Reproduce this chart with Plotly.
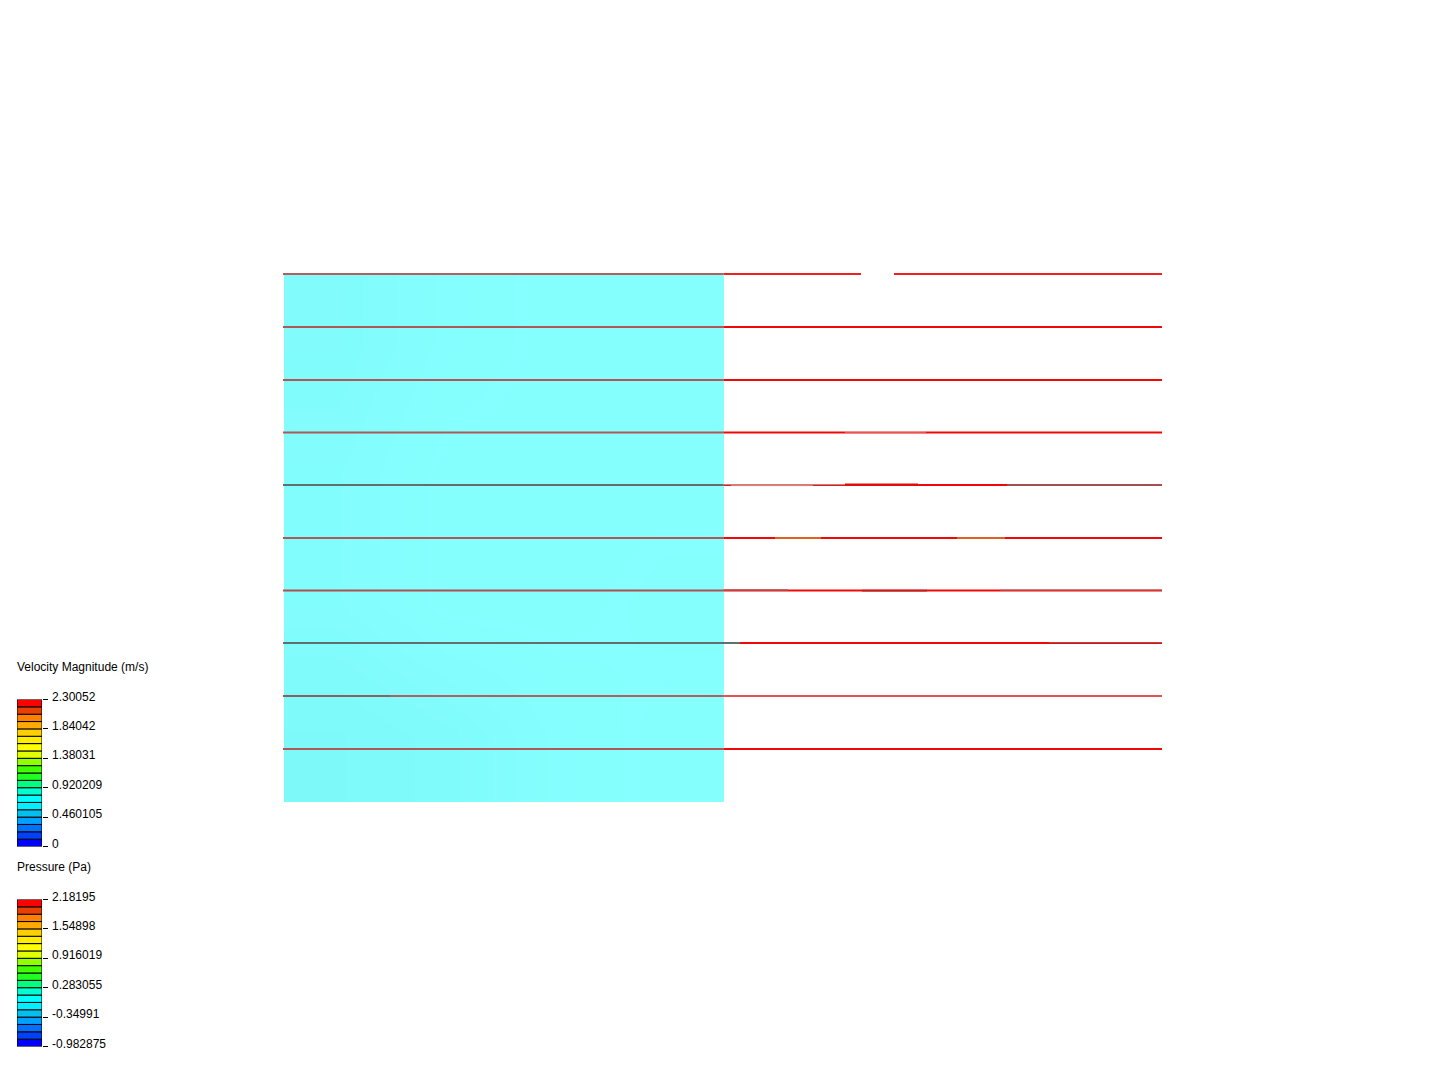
import plotly.graph_objects as go

# Plate positions and spans (horizontal lines)
plate_y = [274, 327, 380, 432.5, 485, 538, 590.5, 643, 696, 749]
plate_x0 = 283
plate_split = 723.5
plate_x1 = 1162
gap_x = [861, 894]
block_x_edges = [284, 394, 504, 614, 723.5]
block_y_edges = [275, 407, 539, 670, 802]
block_shade = [
    [0.55, 0.85, 1.0, 1.0],
    [0.7, 1.0, 1.0, 1.0],
    [0.7, 1.0, 1.0, 0.9],
    [0.3, 0.5, 0.85, 1.0],
]
block_line_colors = ["#b06060", "#b05858", "#b05858", "#b05858", "#607070", "#b05858", "#b05050", "#607070", "#b06060", "#b05858"]

# Detail segments seen on the plates: y, x start, x end, colour, width
seg_y = [485, 484.4, 485.6, 484.6, 538, 538, 590, 590.6, 590, 643, 642.5, 696, 432, 696]
seg_x0 = [1007, 845, 731, 723.5, 775, 957, 723.5, 862, 1000, 283, 1049, 283, 845, 723.5]
seg_x1 = [1162, 918, 813, 845, 821, 1005, 788, 927, 1162, 740, 1162, 390, 926, 1162]
seg_color = ["#a05050", "#d81010", "#f08080", "#c09090", "#e06020", "#e06020", "#b05858", "#c02020", "#b07070", "#607070", "#a05050", "#8a6060", "#e0a0a0", "#d0a0a0"]
seg_w = [2, 1.6, 1, 1, 2, 2, 1.6, 1.6, 1, 2, 1, 2, 1, 1]

vel_title = "Velocity Magnitude (m/s)"
vel_ticks = [0, 0.460105, 0.920209, 1.38031, 1.84042, 2.30052]
vel_labels = ["0", "0.460105", "0.920209", "1.38031", "1.84042", "2.30052"]
pres_title = "Pressure (Pa)"
pres_ticks = [-0.982875, -0.34991, 0.283055, 0.916019, 1.54898, 2.18195]
pres_labels = ["-0.982875", "-0.34991", "0.283055", "0.916019", "1.54898", "2.18195"]
band_colors = ["#0000ff", "#0040ff", "#0070ff", "#00a0ff", "#00c0f0", "#00f0ff", "#00ffff", "#00ffd0", "#00ff80",
               "#20ff20", "#40ff00", "#90ff00", "#e0ff00", "#ffff00", "#ffee00", "#ffd000", "#ffaa00", "#ff8000", "#e84000", "#ff0000"]

FONT = dict(family="Liberation Sans", size=12, color="#000000")

fig = go.Figure()
fig.add_trace(go.Heatmap(x=block_x_edges, y=block_y_edges, z=block_shade, zsmooth="best", showscale=False, hoverinfo="skip",
                         colorscale=[[0, "rgb(122,247,247)"], [1, "rgb(134,255,255)"]], zmin=0, zmax=1))


def hline(xs, y, color, width):
    fig.add_trace(go.Scatter(x=xs, y=[None if v is None else y for v in xs], mode="lines",
                             line=dict(color=color, width=width), hoverinfo="skip", showlegend=False))


for i, y in enumerate(plate_y):
    hline([plate_x0, plate_split], y, block_line_colors[i], 2)
    if i == 0:
        hline([plate_split, gap_x[0], None, gap_x[1], plate_x1], y, "#f02020", 2)
    else:
        hline([plate_split, plate_x1], y, "#f00808", 2)
for y, a, b, c, w in zip(seg_y, seg_x0, seg_x1, seg_color, seg_w):
    hline([a, b], y, c, w)

annotations = []


def legend(ticks, labels, top, bottom, xname, yname, lo, hi):
    step = (hi - lo) / len(band_colors)
    fig.add_trace(go.Bar(x=[0] * len(band_colors), y=[step] * len(band_colors), base=[lo + k * step for k in range(len(band_colors))],
                         width=1, marker=dict(color=band_colors, line=dict(color="#000000", width=1)),
                         xaxis=xname, yaxis=yname, showlegend=False, hoverinfo="skip"))
    xa = "xaxis" + xname[1:]
    ya = "yaxis" + yname[1:]
    fig.update_layout(**{
        xa: dict(domain=[17 / 1440, 42 / 1440], range=[-0.5, 0.5], visible=False, anchor=yname, fixedrange=True),
        ya: dict(domain=[1 - bottom / 1080, 1 - top / 1080], range=[lo, hi], anchor=xname, side="right", showgrid=False, zeroline=False,
                 tickmode="array", tickvals=ticks, ticktext=labels, ticks="outside", ticklen=5, tickcolor="#000000", tickwidth=1,
                 showticklabels=False, fixedrange=True),
    })
    for v, t in zip(ticks, labels):
        annotations.append(dict(text=t, x=50, y=v, xref="x", yref=yname, xanchor="left", yanchor="middle", yshift=3, showarrow=False, font=FONT))


legend(vel_ticks, vel_labels, 699.5, 846.5, "x2", "y2", vel_ticks[0], vel_ticks[-1])
legend(pres_ticks, pres_labels, 899.5, 1046.5, "x3", "y3", pres_ticks[0], pres_ticks[-1])

annotations += [
    dict(text=vel_title, x=15, y=667, xref="x", yref="y", xanchor="left", yanchor="middle", showarrow=False, font=FONT),
    dict(text=pres_title, x=15, y=867, xref="x", yref="y", xanchor="left", yanchor="middle", showarrow=False, font=FONT),
]

fig.update_layout(
    width=1440, height=1080, autosize=False, margin=dict(l=0, r=0, t=0, b=0, pad=0), paper_bgcolor="white", plot_bgcolor="white",
    barmode="overlay", showlegend=False,
    xaxis=dict(range=[0, 1440], domain=[0, 1], visible=False, fixedrange=True),
    yaxis=dict(range=[1080, 0], domain=[0, 1], visible=False, fixedrange=True),
    annotations=annotations,
)
fig.write_html("out.html", config=dict(displayModeBar=False),
               post_script="document.body.style.margin='0';document.documentElement.style.overflow='hidden';")
